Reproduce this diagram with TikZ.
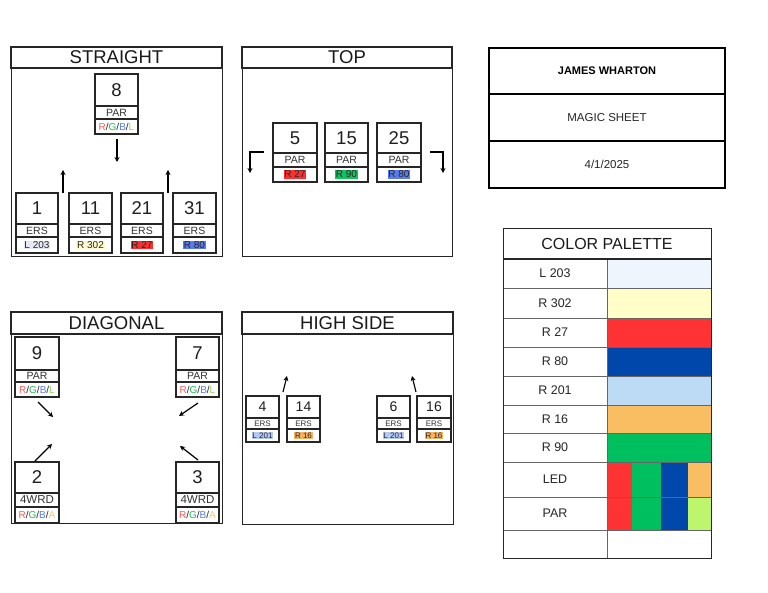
\documentclass[tikz,border=0pt]{standalone}
\usepackage{fontspec}
\setmainfont{Liberation Sans}
\usetikzlibrary{arrows.meta}
\definecolor{palRed}{HTML}{FF3333}
\definecolor{palBlue}{HTML}{0047AB}
\definecolor{palGreen}{HTML}{00BF5F}
\definecolor{palLtBlue}{HTML}{BDDBF5}
\definecolor{palOrange}{HTML}{F9BD62}
\definecolor{palL}{HTML}{EEF5FD}
\definecolor{palYel}{HTML}{FFFDC8}
\definecolor{palLime}{HTML}{BDF56D}
\definecolor{hlLav}{HTML}{E6E8F8}
\definecolor{hlYel}{HTML}{FFFBCC}
\definecolor{hlRed}{HTML}{FF2E2E}
\definecolor{hlBlue}{HTML}{5A7BEE}
\definecolor{hlGreen}{HTML}{12C060}
\definecolor{hlLtBlue}{HTML}{B4C8F2}
\definecolor{hlOrange}{HTML}{F5B263}
\definecolor{tR}{HTML}{FF5A5A}
\definecolor{tG}{HTML}{22B855}
\definecolor{tB}{HTML}{5A7BEE}
\definecolor{tL}{HTML}{8AD85A}
\definecolor{tA}{HTML}{F3C870}
\newcommand\fx[9]{%
  \draw[fxline] (#2,#4) rectangle (#3,#7);
  \draw[fxline] (#2,#5) -- (#3,#5) (#2,#6) -- (#3,#6);
  \node[numtxt] (#1-num) at ({(#2+#3)/2},{(#4+#5)/2}) {#8};
  \node[typetxt] (#1-type) at ({(#2+#3)/2},{(#5+#6)/2}) {#9};
  \coordinate (#1-lab) at ({(#2+#3)/2},{(#6+#7)/2});
}
\newcommand\rgbl{{\color{tR}R}/{\color{tG}G}/{\color{tB}B}/{\color{tL}L}}
\newcommand\rgba{{\color{tR}R}/{\color{tG}G}/{\color{tB}B}/{\color{tA}A}}
\begin{document}
\begin{tikzpicture}[x=1pt,y=-1pt,
  panel/.style={draw=black!85, line width=1pt},
  fxline/.style={draw=black!85, line width=1.5pt},
  ptitle/.style={font=\fontsize{18.5}{18.5}\selectfont, text=black!90, inner sep=0pt},
  numtxt/.style={font=\fontsize{18.5}{18.5}\selectfont, text=black!88, inner sep=0pt},
  typetxt/.style={font=\fontsize{10.5}{10.5}\selectfont, text=black!80, inner sep=0pt},
  labtxt/.style={font=\fontsize{10}{10}\selectfont, text=black!85, inner sep=0.8pt},
  arr/.style={-{Stealth[length=5pt,width=5pt]}, line width=1.2pt, black},
  tbox/.style={draw=black, line width=2.5pt},
  tbtxt/.style={font=\fontsize{11.5}{11.5}\selectfont, text=black!85, inner sep=0pt},
  pltxt/.style={font=\fontsize{12.5}{12.5}\selectfont, text=black!85, inner sep=0pt},
  plline/.style={draw=black!60, line width=0.8pt},
]
\useasboundingbox (0,0) rectangle (768,593);
\fill[white] (0,0) rectangle (768,593);

% ---------- STRAIGHT ----------
\draw[panel] (11,47) rectangle (222,257);
\draw[panel, line width=1.4pt] (11,47) rectangle (222,68);
\node[ptitle] (t-straight) at (116.5,57.5) {STRAIGHT};
\fx{f8}{95}{138}{74}{106}{119}{134}{8}{PAR}
\node[labtxt] (f8-c) at (f8-lab) {\rgbl};
\fx{f1}{16}{58}{193}{224}{237}{253}{1}{ERS}
\node[labtxt, fill=hlLav] (f1-c) at (f1-lab) {L 203};
\fx{f11}{69}{112}{193}{224}{237}{253}{11}{ERS}
\node[labtxt, fill=hlYel] (f11-c) at (f11-lab) {R 302};
\fx{f21}{121}{163}{193}{224}{237}{253}{21}{ERS}
\node[labtxt, fill=hlRed] (f21-c) at (f21-lab) {R 27};
\fx{f31}{173}{216}{193}{224}{237}{253}{31}{ERS}
\node[labtxt, fill=hlBlue] (f31-c) at (f31-lab) {R 80};
\coordinate (s-a1) at (117,139); \coordinate (s-a2) at (117,162);
\coordinate (s-b1) at (63,193);  \coordinate (s-b2) at (63,170);
\coordinate (s-c1) at (168,193); \coordinate (s-c2) at (168,170);
\draw[arr] (s-a1) -- (s-a2);
\draw[arr] (s-b1) -- (s-b2);
\draw[arr] (s-c1) -- (s-c2);

% ---------- TOP ----------
\draw[panel] (242,47) rectangle (452,257);
\draw[panel, line width=1.4pt] (242,47) rectangle (452,68);
\node[ptitle] (t-top) at (347,57.5) {TOP};
\fx{f5}{273}{317}{123}{153}{167}{182}{5}{PAR}
\node[labtxt, fill=hlRed] (f5-c) at (f5-lab) {R 27};
\fx{f15}{325}{368}{123}{153}{167}{182}{15}{PAR}
\node[labtxt, fill=hlGreen] (f15-c) at (f15-lab) {R 90};
\fx{f25}{377}{421}{123}{153}{167}{182}{25}{PAR}
\node[labtxt, fill=hlBlue] (f25-c) at (f25-lab) {R 80};
\coordinate (t-l1) at (264,152); \coordinate (t-l2) at (250,152); \coordinate (t-l3) at (250,173);
\coordinate (t-r1) at (430,152); \coordinate (t-r2) at (443,152); \coordinate (t-r3) at (443,173);
\draw[arr] (t-l1) -- (t-l2) -- (t-l3);
\draw[arr] (t-r1) -- (t-r2) -- (t-r3);

% ---------- DIAGONAL ----------
\draw[panel] (11,312) rectangle (222,523);
\draw[panel, line width=1.4pt] (11,312) rectangle (222,334);
\node[ptitle] (t-diag) at (116.5,323) {DIAGONAL};
\fx{f9}{15}{59}{337}{370}{382}{397}{9}{PAR}
\node[labtxt] (f9-c) at (f9-lab) {\rgbl};
\fx{f7}{176}{219}{337}{370}{382}{397}{7}{PAR}
\node[labtxt] (f7-c) at (f7-lab) {\rgbl};
\begin{scope}[typetxt/.append style={font=\fontsize{11.5}{11.5}\selectfont}]
\fx{f2}{15}{59}{462}{493}{507}{523}{2}{4WRD}
\fx{f3}{176}{219}{462}{493}{507}{523}{3}{4WRD}
\end{scope}
\node[labtxt] (f2-c) at (f2-lab) {\rgba};
\node[labtxt] (f3-c) at (f3-lab) {\rgba};
\coordinate (d-a1) at (38,402);  \coordinate (d-a2) at (53,417);
\coordinate (d-b1) at (198,403); \coordinate (d-b2) at (179,416);
\coordinate (d-c1) at (35,461);  \coordinate (d-c2) at (52,444);
\coordinate (d-d1) at (198,460); \coordinate (d-d2) at (180,446);
\draw[arr] (d-a1) -- (d-a2);
\draw[arr] (d-b1) -- (d-b2);
\draw[arr] (d-c1) -- (d-c2);
\draw[arr] (d-d1) -- (d-d2);

% ---------- HIGH SIDE ----------
\draw[panel] (242,312) rectangle (453,524);
\draw[panel, line width=1.4pt] (242,312) rectangle (453,334);
\node[ptitle] (t-high) at (347.5,323) {HIGH SIDE};
\begin{scope}[numtxt/.append style={font=\fontsize{14}{14}\selectfont},
              typetxt/.append style={font=\fontsize{8}{8}\selectfont},
              labtxt/.append style={font=\fontsize{8}{8}\selectfont},
              fxline/.append style={line width=1.3pt}]
\fx{f4}{246}{279}{396}{418}{429}{442}{4}{ERS}
\node[labtxt, fill=hlLtBlue] (f4-c) at (f4-lab) {L 201};
\fx{f14}{287}{320}{396}{418}{429}{442}{14}{ERS}
\node[labtxt, fill=hlOrange] (f14-c) at (f14-lab) {R 16};
\fx{f6}{377}{410}{396}{418}{429}{442}{6}{ERS}
\node[labtxt, fill=hlLtBlue] (f6-c) at (f6-lab) {L 201};
\fx{f16}{417}{451}{396}{418}{429}{442}{16}{ERS}
\node[labtxt, fill=hlOrange] (f16-c) at (f16-lab) {R 16};
\end{scope}
\coordinate (h-a1) at (283,392); \coordinate (h-a2) at (287,376);
\coordinate (h-b1) at (416,392); \coordinate (h-b2) at (412,376);
\draw[arr] (h-a1) -- (h-a2);
\draw[arr] (h-b1) -- (h-b2);

% ---------- TITLE BOX ----------
\draw[tbox] (489,48) rectangle (725,188);
\draw[tbox] (489,94) -- (725,94) (489,141) -- (725,141);
\node[tbtxt, font=\bfseries\fontsize{11}{11}\selectfont, text=black] (tb-name) at (607,71) {JAMES WHARTON};
\node[tbtxt] (tb-sheet) at (607,117.5) {MAGIC SHEET};
\node[tbtxt] (tb-date) at (607,164.5) {4/1/2025};

% ---------- COLOR PALETTE ----------
\fill[palL] (607,259) rectangle (711,288);
\fill[palYel] (607,288) rectangle (711,318);
\fill[palRed] (607,318) rectangle (711,347);
\fill[palBlue] (607,347) rectangle (711,376);
\fill[palLtBlue] (607,376) rectangle (711,405);
\fill[palOrange] (607,405) rectangle (711,433);
\fill[palGreen] (607,433) rectangle (711,462);
\fill[palRed] (607,462) rectangle (632,497);
\fill[palGreen] (632,462) rectangle (661,497);
\fill[palBlue] (661,462) rectangle (688,497);
\fill[palOrange] (688,462) rectangle (711,497);
\fill[palRed] (607,497) rectangle (632,530);
\fill[palGreen] (632,497) rectangle (661,530);
\fill[palBlue] (661,497) rectangle (688,530);
\fill[palLime] (688,497) rectangle (711,530);
\foreach \yy in {288,318,347,376,405,433,462,497,530}
  \draw[plline] (503,\yy) -- (711,\yy);
\draw[plline] (607,259) -- (607,558);
\draw[draw=black!85, line width=1pt] (503,229) rectangle (711,558);
\draw[draw=black!85, line width=1.8pt] (503,259) -- (711,259);
\node[ptitle, font=\fontsize{16}{16}\selectfont] (p-title) at (607,244) {COLOR PALETTE};
\node[pltxt] (p1) at (555,273.5) {L 203};
\node[pltxt] (p2) at (555,303) {R 302};
\node[pltxt] (p3) at (555,332.5) {R 27};
\node[pltxt] (p4) at (555,361.5) {R 80};
\node[pltxt] (p5) at (555,390.5) {R 201};
\node[pltxt] (p6) at (555,419) {R 16};
\node[pltxt] (p7) at (555,447.5) {R 90};
\node[pltxt] (p8) at (555,479.5) {LED};
\node[pltxt] (p9) at (555,513.5) {PAR};
\end{tikzpicture}
\end{document}
